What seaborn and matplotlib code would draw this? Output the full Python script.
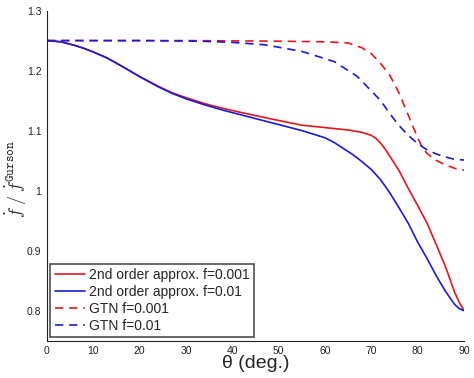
import matplotlib
matplotlib.use("Agg")
import matplotlib.pyplot as plt
import pandas as pd
import seaborn as sns

# angle (deg.) and normalised void growth rate
theta_so_f001 = [0, 3, 6, 8, 10, 13, 16, 20, 24, 27, 30, 34, 38, 42, 48, 55, 60, 65, 68, 70, 71, 72, 73, 74, 75,
                 76, 77, 78, 80, 82, 84, 86, 88, 89, 90]
rate_so_f001 = [1.25, 1.248, 1.242, 1.237, 1.231, 1.221, 1.208, 1.19, 1.174, 1.163, 1.155, 1.145, 1.137, 1.130,
                1.12, 1.109, 1.105, 1.101, 1.097, 1.092, 1.087, 1.079, 1.069, 1.057, 1.045, 1.033, 1.018, 1.003,
                0.975, 0.946, 0.91, 0.873, 0.83, 0.813, 0.80]

theta_so_f01 = [0, 3, 6, 8, 10, 13, 16, 20, 24, 27, 30, 34, 38, 42, 48, 55, 60, 62, 64, 66, 68, 70, 72, 74, 76,
                78, 80, 82, 84, 86, 88, 89, 90]
rate_so_f01 = [1.25, 1.248, 1.242, 1.237, 1.231, 1.221, 1.208, 1.19, 1.173, 1.162, 1.153, 1.143, 1.134, 1.126,
               1.114, 1.100, 1.088, 1.080, 1.070, 1.060, 1.048, 1.035, 1.018, 0.996, 0.971, 0.945, 0.914, 0.887,
               0.858, 0.832, 0.81, 0.803, 0.80]

theta_gtn_f001 = [0, 30, 50, 60, 65, 68, 70, 72, 74, 76, 78, 80, 81, 82, 84, 86, 88, 90]
rate_gtn_f001 = [1.25, 1.25, 1.249, 1.248, 1.246, 1.238, 1.228, 1.212, 1.192, 1.162, 1.125, 1.088, 1.072,
                 1.062, 1.050, 1.043, 1.037, 1.034]

theta_gtn_f01 = [0, 20, 33, 40, 47, 55, 62, 65, 67, 70, 72, 74, 76, 78, 80, 82, 84, 86, 88, 90]
rate_gtn_f01 = [1.25, 1.25, 1.249, 1.247, 1.243, 1.232, 1.215, 1.200, 1.19, 1.166, 1.15, 1.128, 1.108, 1.092,
                1.078, 1.068, 1.061, 1.056, 1.052, 1.051]

series = [
    ("2nd order approx. f=0.001", theta_so_f001, rate_so_f001, "#e8141c", "-"),
    ("2nd order approx. f=0.01", theta_so_f01, rate_so_f01, "#1a1ad6", "-"),
    ("GTN f=0.001", theta_gtn_f001, rate_gtn_f001, "#e8141c", "--"),
    ("GTN f=0.01", theta_gtn_f01, rate_gtn_f01, "#1a1ad6", "--"),
]

sns.set_style("white")
plt.rcParams['font.family'] = ['Liberation Sans', 'DejaVu Sans']
plt.rcParams['mathtext.fontset'] = 'cm'

fig = plt.figure(figsize=(4.74, 3.78), dpi=100)
ax = fig.add_axes([0.099, 0.099, 0.880, 0.873])

for label, x, y, color, ls in series:
    df = pd.DataFrame({'theta': x, 'rate': y})
    sns.lineplot(data=df, x='theta', y='rate', ax=ax, color=color, label=label, linewidth=1.2)
    ax.lines[-1].set_linestyle(ls)
    if ls == "--":
        ax.lines[-1].set_dashes((5, 3.5))

ax.set_xlim(0, 90)
ax.set_ylim(0.75, 1.3)
ax.set_xticks(range(0, 91, 10))
ax.set_yticks([0.8, 0.9, 1.0, 1.1, 1.2, 1.3])
ax.set_yticklabels(["0.8", "0.9", "1", "1.1", "1.2", "1.3"])
ax.tick_params(direction='in', length=3, width=0.8, labelsize=7.5, colors='#222222', pad=4)
for s in ['top', 'right']:
    ax.spines[s].set_visible(False)
for s in ['left', 'bottom']:
    ax.spines[s].set_color('#222222')
    ax.spines[s].set_linewidth(0.8)

ax.set_xlabel("θ (deg.)", fontsize=14, labelpad=0)
ax.xaxis.set_label_coords(0.5, -0.045)
ax.xaxis.label.set_va('top')
ax.set_ylabel(r"$\dot{f}\;/\;\dot{f}^{\mathtt{Gurson}}$", fontsize=13)
ax.yaxis.set_label_coords(-0.042, 0.49)

leg = ax.legend(loc='lower left', fontsize=10, frameon=True, fancybox=False, handlelength=2.2,
                handletextpad=0.3, borderpad=0.3, labelspacing=0.22, borderaxespad=0.25)
leg.get_frame().set_edgecolor('#222222')
leg.get_frame().set_linewidth(1.2)

fig.savefig("out.png", dpi=100)
